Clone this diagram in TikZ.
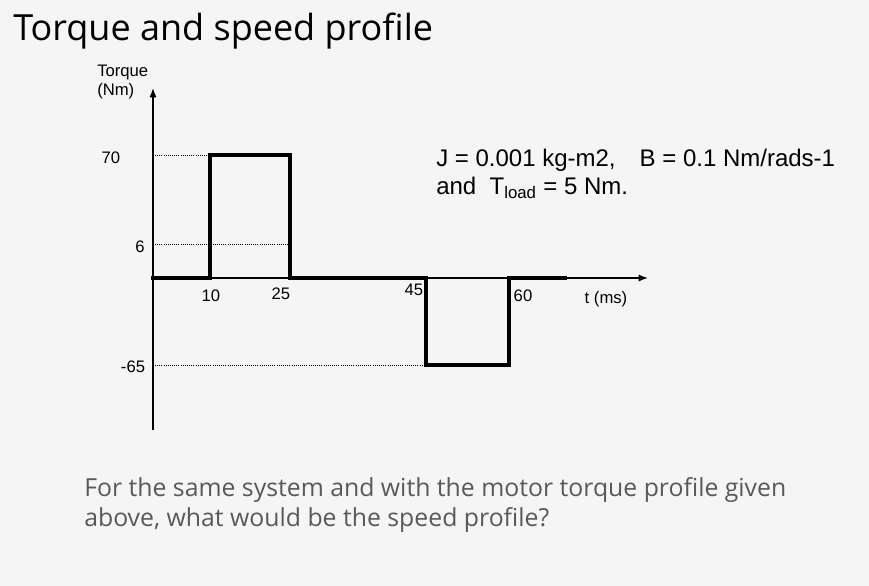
\documentclass[tikz,border=0pt]{standalone}
\usepackage{fontspec}
\usetikzlibrary{arrows.meta}
\setmainfont{Liberation Sans}
\newfontfamily\titlefont{Open Sans}
\begin{document}
\begin{tikzpicture}[x=0.75pt,y=-0.75pt,
  prof/.style={line width=2.4pt,line cap=rect},
  guide/.style={densely dotted,line width=0.6pt},
  lbl/.style={font=\fontsize{12.5}{14}\selectfont,inner sep=0pt}]
\fill[gray!8] (0,0) rectangle (869,586);
\useasboundingbox (0,0) rectangle (869,586);
\node[anchor=west,inner sep=0pt,font=\titlefont\fontsize{27}{30}\selectfont] (title) at (13,31) {Torque and speed profile};
\coordinate (o) at (153,278);
\coordinate (ytop) at (153,88);
\coordinate (ybot) at (153,430);
\coordinate (xend) at (648,278);
\draw[-{Latex[length=7pt]},line width=0.9pt] (ybot) -- (ytop);
\draw[-{Latex[length=7pt]},line width=0.9pt] (o) -- (xend);
\draw[guide] (155,155) -- (210,155);
\draw[guide] (155,244) -- (290,244);
\draw[guide] (155,365) -- (426,365);
\draw[prof] (153,278) -- (210,278) -- (210,155) -- (290,155) -- (290,278) -- (426,278) -- (426,365) -- (509,365) -- (509,278) -- (565,278);
\node[lbl,align=left,anchor=west] (ylab) at (97,82) {Torque\\(Nm)};
\node[lbl] (l70) at (111,158) {70};
\node[lbl] (l6) at (140,247) {6};
\node[lbl] (l65) at (133,367) {-65};
\node[lbl] (t10) at (211,296) {10};
\node[lbl] (t25) at (281,294) {25};
\node[lbl] (t45) at (414,290) {45};
\node[lbl] (t60) at (523,296) {60};
\node[lbl] (tms) at (606,299) {t (ms)};
\node[anchor=west,inner sep=0pt,font=\fontsize{18}{20}\selectfont] (f1) at (436,160) {J = 0.001 kg-m2,\quad B = 0.1 Nm/rads-1};
\node[anchor=west,inner sep=0pt,font=\fontsize{18}{20}\selectfont] (f2) at (436,188) {and\ \ T\textsubscript{load} = 5 Nm.};
\node[anchor=west,inner sep=0pt,align=left,text=black!65,font=\titlefont\fontsize{18.6}{23}\selectfont] (q) at (84,505) {For the same system and with the motor torque profile given\\above, what would be the speed profile?};
\end{tikzpicture}
\end{document}
